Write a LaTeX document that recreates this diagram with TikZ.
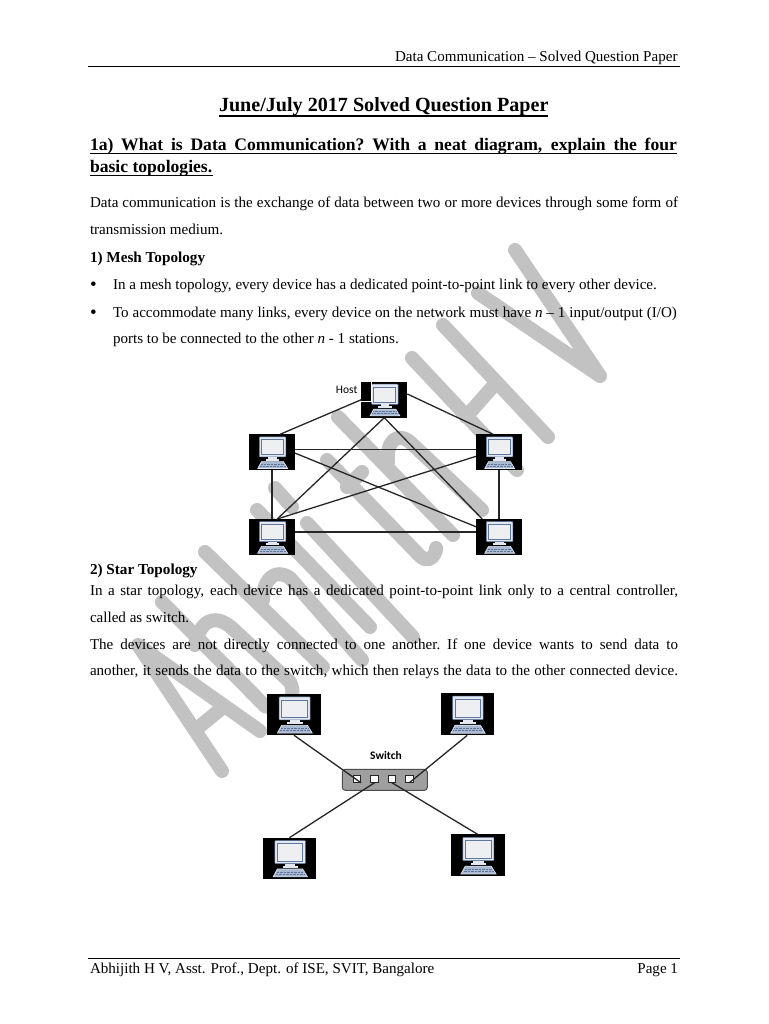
\documentclass[tikz,border=0pt]{standalone}
\usepackage{fontspec}
\setmainfont{Liberation Serif}
\newfontfamily\labelfont{Carlito}
\usetikzlibrary{calc}
\definecolor{wm}{HTML}{C2C2C2}
\definecolor{linkc}{HTML}{262626}
\definecolor{monA}{HTML}{E3E8F2}
\definecolor{monB}{HTML}{5F769C}
\definecolor{scr}{HTML}{EEEFF3}
\definecolor{kbd}{HTML}{A9B9D2}
\tikzset{
  x=1pt,y=-1pt,
  wmark/.style={draw=wm,line width=14pt,line cap=round,line join=round},
  bodyt/.style={anchor=base west,inner sep=0pt,outer sep=0pt,font=\fontsize{15.07}{17}\selectfont},
  boldt/.style={bodyt,font=\fontsize{15.2}{17}\selectfont\bfseries},
  pcbox/.style={fill=black,draw=none,inner sep=0pt,outer sep=0pt},
  link/.style={draw=linkc,line width=1.3pt},
  rulel/.style={draw=black,line width=0.8pt},
  port/.style={fill=white,draw=linkc,line width=1pt,minimum width=7.5pt,minimum height=6.5pt,inner sep=0pt},
  switchbody/.style={fill=gray!75,draw=black!70,line width=1pt,rounded corners=3pt,minimum width=85pt,minimum height=21pt,inner sep=0pt},
  smalll/.style={inner sep=0pt,font=\labelfont\fontsize{11.5}{13}\selectfont},
}
\newcommand{\jl}[2]{{\spaceskip=.25em plus 1em minus .08em\xspaceskip=\spaceskip\hbox to #1{#2}}}
\newcommand{\pc}[5]{%
  \node[pcbox,minimum width=#4pt,minimum height=#5pt] (#1) at (#2,#3) {};
  \begin{scope}[shift={(#1.north west)},x=#4pt,y=-#5pt]
    \draw[fill=monA,draw=monB,line width=.5pt,rounded corners=.7pt] (.225,.07) rectangle (.80,.63);
    \draw[fill=scr,draw=monB,line width=.7pt] (.27,.145) rectangle (.75,.57);
    \fill[monA] (.42,.63) rectangle (.61,.68);
    \fill[monA] (.37,.68) rectangle (.66,.73);
    \draw[fill=kbd,draw=monA,line width=.6pt] (.27,.76) -- (.75,.76) -- (.84,.95) -- (.19,.95) -- cycle;
    \draw[monB,line width=.7pt,dash pattern=on .8pt off .6pt] (.26,.83) -- (.76,.83);
    \draw[monB,line width=.7pt,dash pattern=on .8pt off .6pt] (.24,.89) -- (.79,.89);
  \end{scope}}
\begin{document}
\begin{tikzpicture}
\useasboundingbox (0,0) rectangle (768,1024);
\fill[white] (0,0) rectangle (768,1024);
% watermark
\draw[wmark] (515,250) -- (600,376) -- (478,293);
\draw[wmark] (443,325) -- (548,437);
\draw[wmark] (412,358) -- (517,470);
\draw[wmark] (466,417) -- (495,384);
\draw[wmark] (338,417) -- (453,535);
\draw[wmark] (388,462) .. controls (386,440) and (398,432) .. (410,442) -- (482,510);
\draw[wmark] (327,460) -- (420,556) .. controls (428,564) and (436,556) .. (436,548);
\draw[wmark] (362,472) -- (347,487);
\draw[wmark] (307,523) -- (413,637);
\draw[wmark] (275,488) -- (292,507);
\draw[wmark] (257,510) -- (370,627);
\draw[wmark] (205,552) -- (323,667);
\draw[wmark] (263,600) .. controls (263,578) and (276,568) .. (290,578) -- (362,660);
\draw[wmark] (162,602) -- (265,706);
\draw[wmark] (195,645) .. controls (200,622) and (213,612) .. (232,628) -- (290,682) .. controls (298,698) and (285,714) .. (265,706);
\draw[wmark] (222,771) -- (138,645) -- (260,731);
\draw[wmark] (199,727) -- (222,708);
% header and footer
\node[bodyt] (head) at (395,62) {Data Communication – Solved Question Paper};
\draw[rulel] (88,66) -- (680,66);
\draw[rulel] (88,958) -- (680,958);
\node[bodyt] (foot) at (90,973) {Abhijith H V, Asst. Prof., Dept. of ISE, SVIT, Bangalore};
\node[bodyt,anchor=base east] (pageno) at (678,973) {Page 1};
% title
\node[boldt] (title) at (219,112) {\fontsize{20.1}{22}\selectfont\bfseries June/July 2017 Solved Question Paper};
\draw[line width=1.3pt] (219,116) -- (548,116);
\node[boldt] (q1) at (90,151) {\fontsize{17.6}{20}\selectfont\bfseries\jl{587pt}{1a) What is Data Communication? With a neat diagram, explain the four}};
\draw[line width=1.3pt] (90,153.5) -- (677,153.5);
\node[boldt] (q2) at (90,173) {\fontsize{17.6}{20}\selectfont\bfseries basic topologies.};
\draw[line width=1.3pt] (90,175.5) -- (213,175.5);
% body
\node[bodyt] (p1) at (90,208) {\jl{588pt}{Data communication is the exchange of data between two or more devices through some form of}};
\node[bodyt] (p2) at (90,234) {transmission medium.};
\node[boldt] (h1) at (90,262) {1) Mesh Topology};
\node[bodyt] (b1m) at (90,290) {\fontsize{19}{20}\selectfont •};
\node[bodyt] (b1) at (113,289) {In a mesh topology, every device has a dedicated point-to-point link to every other device.};
\node[bodyt] (b2m) at (90,318) {\fontsize{19}{20}\selectfont •};
\node[bodyt] (b2) at (113,317) {\jl{564pt}{To accommodate many links, every device on the network must have \textit{n} – 1 input/output (I/O)}};
\node[bodyt] (b3) at (113,343) {ports to be connected to the other \textit{n} - 1 stations.};
\node[boldt] (h2) at (90,574) {2) Star Topology};
\node[bodyt] (s1) at (90,595) {\jl{588pt}{In a star topology, each device has a dedicated point-to-point link only to a central controller,}};
\node[bodyt] (s2) at (90,622) {called as switch.};
\node[bodyt] (s3) at (90,649) {\jl{588pt}{The devices are not directly connected to one another. If one device wants to send data to}};
\node[bodyt] (s4) at (90,675) {\jl{588pt}{another, it sends the data to the switch, which then relays the data to the other connected device.}};
% mesh
\pc{host}{384.3}{399.7}{46}{36}
\pc{left}{272}{452.3}{46}{36}
\pc{right}{499}{452.3}{46}{36}
\pc{bl}{272}{537}{46}{36}
\pc{br}{499}{537}{46}{36}
\node[smalll] (hostl) at (346.7,390) {Host};
\draw[white,line width=.8pt] ($(host.north west)+(10,0)$) -- ($(host.north west)+(10,20)$) -- ($(host.north west)+(0,20)$);
\draw[link] (host.west) -- (left.66);
\draw[link] (host.14) -- (right.108);
\draw[link] (host.south) -- (bl.74);
\draw[link] (host.south) -- (br.133);
\draw[link] (left.7) -- (right.173);
\draw[link] (left.-2) -- (br.156);
\draw[link] (right.190) -- (bl.74);
\draw[link] (left.south) -- (bl.north);
\draw[link] (right.south) -- (br.north);
\draw[link] (bl.12) -- (br.168);
% star
\pc{tl}{294}{714.6}{54}{41.3}
\pc{tr}{467.2}{714.2}{53}{42.3}
\pc{sbl}{289.5}{858.3}{53}{41.3}
\pc{sbr}{477.7}{855.2}{54}{41.7}
\node[switchbody] (sw) at (384.8,779.8) {};
\node[port] (p1a) at (356.8,779) {};
\node[port] (p2a) at (374.5,779) {};
\node[port] (p3a) at (392,779) {};
\node[port] (p4a) at (409.3,779) {};
\node[smalll,font=\labelfont\bfseries\fontsize{11.5}{13}\selectfont] (swl) at (386,755) {Switch};
\draw[link] (tl.south) -- (p1a.south east);
\draw[link] (tr.south) -- (p4a.south);
\draw[link] (sbl.north) -- (p2a.south);
\draw[link] (sbr.north) -- (p3a.south);
\end{tikzpicture}
\end{document}
